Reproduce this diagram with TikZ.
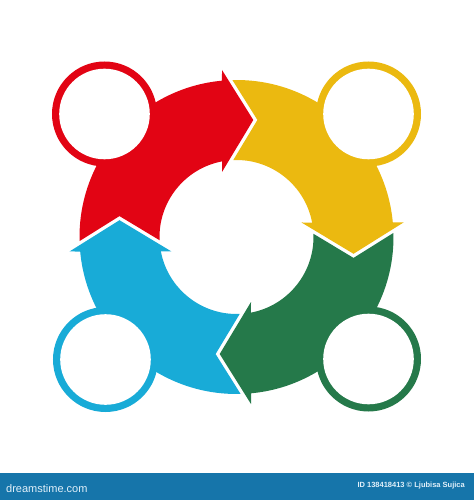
\documentclass[tikz,border=0pt]{standalone}
\usepackage{fontspec}
\setmainfont{Liberation Sans}
\definecolor{cred}{RGB}{226,4,20}
\definecolor{cyellow}{RGB}{235,185,16}
\definecolor{cgreen}{RGB}{37,121,74}
\definecolor{cblue}{RGB}{24,171,215}
\definecolor{barblue}{RGB}{22,117,170}
\definecolor{bartext}{RGB}{225,240,250}
\begin{document}
\begin{tikzpicture}[x=1pt,y=1pt,
  seg/.style={fill=#1},
  ringc/.style={fill=#1},
  hole/.style={fill=white}]
\useasboundingbox (-236.5,-263) rectangle (237.5,237);
% four curved arrows (4-fold rotational symmetry)
\foreach \ang/\col in {0/cred,-90/cyellow,-180/cgreen,-270/cblue}{
  \begin{scope}[rotate=\ang]
    \path[seg=\col] (181.49:157) -- (-117.04,20.91) -- (182.40:77)
      arc[start angle=182.40,end angle=100.85,radius=77]
      -- (-14.5,65) -- (16.8,117) -- (-14.5,167) -- (95.30:157)
      arc[start angle=95.30,end angle=181.49,radius=157] -- cycle;
  \end{scope}
}
% four ring circles
\foreach \cx/\cy/\col in {-132/123/cred,132/123/cyellow,132/-122/cgreen,-131/-122.5/cblue}{
  \fill[ringc=\col] (\cx,\cy) circle (52.5);
  \fill[hole] (\cx,\cy) circle (45.3);
}
% bottom bar
\fill[barblue] (-236.5,-263) rectangle (237.5,-236);
\node[anchor=west,text=bartext,font=\fontsize{11}{11}\selectfont,inner sep=0pt] (brand) at (-230.5,-251.5) {dreamstime.com};
\node[anchor=east,text=bartext,font=\fontsize{7.5}{8}\bfseries,inner sep=0pt] (credit) at (228.5,-249) {ID 138418413 © Ljubisa Sujica};
\end{tikzpicture}
\end{document}
